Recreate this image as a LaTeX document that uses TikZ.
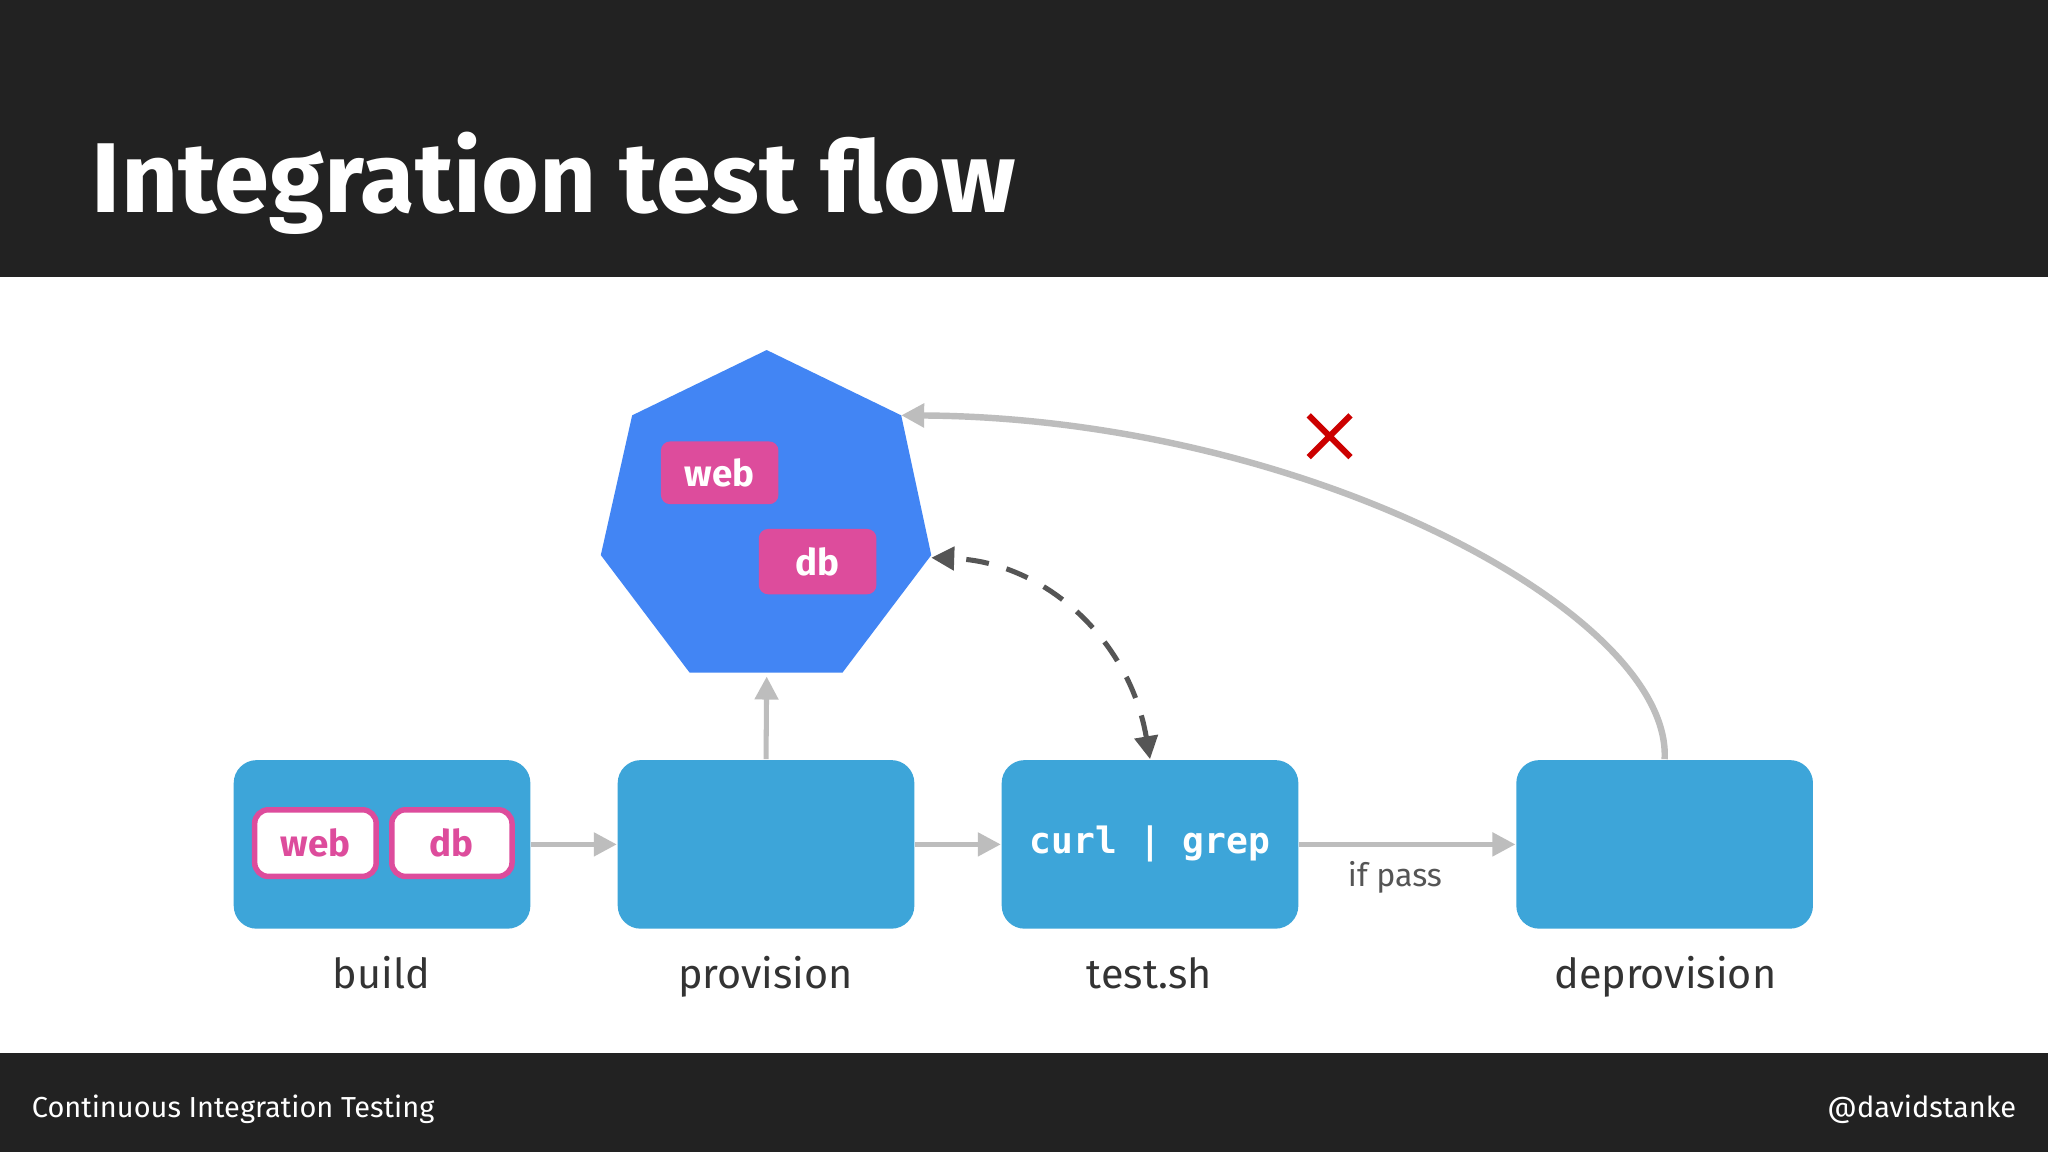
\documentclass[tikz,border=0pt]{standalone}
\usepackage{fontspec}
\setmainfont{Fira Sans}
\newfontfamily\monof{DejaVu Sans Mono}
\usetikzlibrary{arrows.meta}
\definecolor{band}{HTML}{222222}
\definecolor{kblue}{HTML}{4285F4}
\definecolor{sblue}{HTML}{3DA5D9}
\definecolor{pink}{HTML}{DD4C9C}
\definecolor{lgray}{HTML}{BDBDBD}
\definecolor{dgray}{HTML}{555555}
\definecolor{txt}{HTML}{333333}
\tikzset{
 stage/.style={fill=sblue,rounded corners=5pt,draw=none,minimum width=2.27cm,minimum height=1.29cm},
 wbox/.style={fill=white,draw=pink,line width=1.2pt,rounded corners=3pt,text=pink,font=\fontsize{8}{9}\selectfont\bfseries,inner sep=0},
 lbl/.style={text=txt,font=\fontsize{9}{10}\selectfont,anchor=base},
 flow/.style={draw=lgray,line width=1.1pt,-{Triangle[length=5pt,width=5pt]}}
}
\begin{document}
\begin{tikzpicture}[x=0.01cm,y=-0.01cm]
\useasboundingbox (0,0) rectangle (1568,882);
\fill[white] (0,0) rectangle (1568,882);
\fill[band] (0,0) rectangle (1568,212);
\fill[band] (0,806) rectangle (1568,882);
\node[anchor=west,text=white,font=\fontsize{21.6}{24}\selectfont\bfseries] (title) at (58,140) {Integration test flow};
\node[anchor=west,text=white,font=\fontsize{6.3}{7}\selectfont] (foot) at (12,849) {Continuous Integration Testing};
\node[anchor=east,text=white,font=\fontsize{6.3}{7}\selectfont] (handle) at (1556,849) {@davidstanke};
% heptagon
\fill[kblue] (587,268) -- (690,318) -- (713,425) -- (645,515) -- (528,515) -- (460,425) -- (484,318) -- cycle;
\coordinate (hr) at (713,427);
\coordinate (htr) at (690,318);
\coordinate (hb) at (587,518);
\fill[pink,rounded corners=2pt] (506,338) rectangle (596,386);
\node[text=white,font=\fontsize{8}{9}\selectfont\bfseries] (hweb) at (551,362) {web};
\fill[pink,rounded corners=2pt] (581,405) rectangle (671,455);
\node[text=white,font=\fontsize{8}{9}\selectfont\bfseries] (hdb) at (626,430) {db};
% stages
\node[stage] (build) at (292.5,646.5) {};
\node[stage] (prov) at (586.5,646.5) {};
\node[stage,text=white,font=\monof\fontsize{7.9}{9}\selectfont\bfseries] (test) at (880.5,646.5) {curl | grep};
\node[stage] (deprov) at (1274.5,646.5) {};
\node[wbox,minimum width=0.93cm,minimum height=0.51cm] (bweb) at (241.5,645.5) {web};
\node[wbox,minimum width=0.92cm,minimum height=0.51cm] (bdb) at (346,645.5) {db};
\node[lbl] at (292,757) {build};
\node[lbl] at (586,757) {provision};
\node[lbl] at (880,757) {test.sh};
\node[lbl] at (1275,757) {deprovision};
\node[text=dgray,font=\fontsize{7}{8}\selectfont] at (1068,672) {if pass};
% arrows
\draw[flow] (build.east) -- (prov.west);
\draw[flow] (prov.east) -- (test.west);
\draw[flow] (test.east) -- (deprov.west);
\draw[flow] (prov.north) -- (hb);
\draw[flow,line width=1.4pt] (deprov.north) .. controls (1280,470) and (1000,320) .. (htr);
\draw[dgray,line width=1.1pt,dash pattern=on 5pt off 4pt,{Triangle[length=5pt,width=5pt]}-{Triangle[length=5pt,width=5pt]}] (test.north) .. controls (865,490) and (800,430) .. (hr);
% red X
\draw[red!80!black,line width=1.3pt] (1002,318) -- (1034,350) (1002,350) -- (1034,318);
\end{tikzpicture}
\end{document}
